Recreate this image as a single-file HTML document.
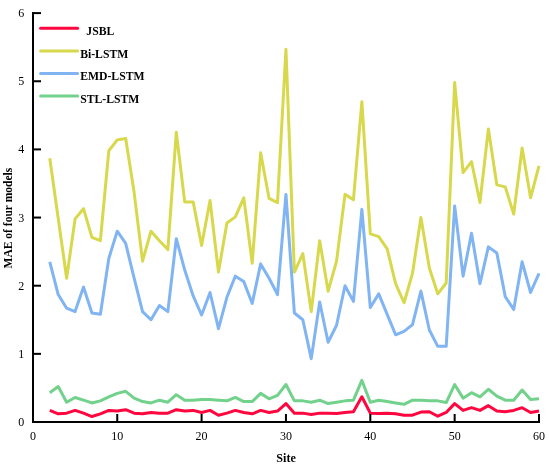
<!DOCTYPE html>
<html><head><meta charset="utf-8"><style>
html,body{margin:0;padding:0;background:#fff;}
body{width:550px;height:466px;overflow:hidden;}
svg{display:block;}
.tl{font-family:"Liberation Serif",serif;font-size:12px;fill:#000;}
.al{font-family:"Liberation Serif",serif;font-size:11.7px;font-weight:bold;fill:#000;}
.lg{font-family:"Liberation Serif",serif;font-size:11.7px;font-weight:bold;fill:#000;}
</style></head><body>
<svg width="550" height="466" viewBox="0 0 550 466">
<rect width="550" height="466" fill="#fff"/>
<polyline points="49.77,410.41 58.20,413.82 66.64,413.14 75.08,410.41 83.51,413.14 91.94,416.55 100.38,413.82 108.81,410.41 117.25,411.10 125.69,409.73 134.12,413.14 142.56,413.82 150.99,412.46 159.43,413.14 167.86,413.14 176.30,409.73 184.73,411.10 193.17,410.41 201.60,412.46 210.04,410.41 218.47,415.19 226.91,413.14 235.34,410.41 243.78,412.46 252.21,413.82 260.64,410.41 269.08,412.46 277.51,411.10 285.95,403.60 294.38,413.14 302.82,413.14 311.25,414.50 319.69,413.14 328.12,413.14 336.56,413.48 345.00,412.46 353.43,411.78 361.87,396.78 370.30,413.14 378.74,413.48 387.17,413.14 395.61,413.82 404.04,415.19 412.48,415.19 420.91,412.12 429.35,411.78 437.78,416.21 446.21,412.46 454.65,403.60 463.08,410.41 471.52,407.69 479.95,410.41 488.39,405.64 496.82,411.10 505.26,411.78 513.70,410.41 522.13,407.69 530.57,412.46 539.00,411.10" fill="none" stroke="#ff063f" stroke-width="3.0" stroke-linejoin="round" stroke-linecap="butt"/>
<polyline points="49.77,158.26 58.20,218.23 66.64,278.20 75.08,218.91 83.51,208.69 91.94,237.31 100.38,240.72 108.81,150.76 117.25,139.86 125.69,138.50 134.12,192.33 142.56,261.17 150.99,231.18 159.43,240.72 167.86,249.58 176.30,132.36 184.73,201.88 193.17,201.88 201.60,245.49 210.04,200.51 218.47,272.07 226.91,223.00 235.34,216.87 243.78,197.79 252.21,263.21 260.64,152.81 269.08,198.47 277.51,202.56 285.95,49.22 294.38,272.07 302.82,253.67 311.25,311.60 319.69,240.72 328.12,291.15 336.56,261.17 345.00,194.38 353.43,199.83 361.87,101.69 370.30,233.91 378.74,236.63 387.17,248.90 395.61,283.66 404.04,302.74 412.48,273.43 420.91,217.55 429.35,267.98 437.78,293.88 446.21,282.97 454.65,82.61 463.08,172.57 471.52,161.67 479.95,202.56 488.39,128.95 496.82,184.84 505.26,186.88 513.70,214.14 522.13,148.04 530.57,197.79 539.00,165.76" fill="none" stroke="#d8d84c" stroke-width="3.0" stroke-linejoin="round" stroke-linecap="butt"/>
<polyline points="49.77,261.85 58.20,294.56 66.64,308.19 75.08,311.60 83.51,287.06 91.94,312.96 100.38,314.32 108.81,258.44 117.25,231.18 125.69,243.45 134.12,278.20 142.56,311.60 150.99,319.77 159.43,305.46 167.86,311.60 176.30,238.68 184.73,270.03 193.17,295.92 201.60,315.00 210.04,292.51 218.47,328.63 226.91,297.29 235.34,276.16 243.78,281.61 252.21,303.42 260.64,263.89 269.08,278.20 277.51,294.56 285.95,194.38 294.38,312.96 302.82,319.77 311.25,358.62 319.69,302.06 328.12,342.26 336.56,325.23 345.00,285.70 353.43,301.37 361.87,209.37 370.30,307.51 378.74,293.88 387.17,314.32 395.61,334.77 404.04,331.36 412.48,324.55 420.91,291.15 429.35,330.00 437.78,346.35 446.21,346.35 454.65,205.96 463.08,276.16 471.52,233.22 479.95,283.66 488.39,246.85 496.82,252.99 505.26,296.60 513.70,309.55 522.13,261.85 530.57,292.51 539.00,273.43" fill="none" stroke="#80b4f2" stroke-width="3.0" stroke-linejoin="round" stroke-linecap="butt"/>
<polyline points="49.77,392.70 58.20,386.56 66.64,402.24 75.08,397.47 83.51,400.19 91.94,402.92 100.38,400.87 108.81,396.78 117.25,393.38 125.69,391.33 134.12,398.15 142.56,401.56 150.99,402.92 159.43,400.19 167.86,402.24 176.30,394.74 184.73,400.19 193.17,400.19 201.60,399.51 210.04,399.51 218.47,400.19 226.91,400.87 235.34,397.47 243.78,401.56 252.21,401.56 260.64,393.38 269.08,398.83 277.51,395.42 285.95,384.52 294.38,400.87 302.82,400.87 311.25,402.24 319.69,400.19 328.12,403.60 336.56,402.24 345.00,400.87 353.43,400.19 361.87,380.43 370.30,402.24 378.74,400.19 387.17,401.56 395.61,402.92 404.04,404.28 412.48,400.19 420.91,400.19 429.35,400.87 437.78,400.87 446.21,402.58 454.65,384.52 463.08,398.15 471.52,392.70 479.95,396.78 488.39,389.29 496.82,396.10 505.26,400.19 513.70,400.19 522.13,389.97 530.57,399.51 539.00,398.83" fill="none" stroke="#72d28c" stroke-width="3.0" stroke-linejoin="round" stroke-linecap="butt"/>
<rect x="32" y="12" width="2" height="411" fill="#000"/>
<rect x="32" y="421" width="508" height="2" fill="#000"/>
<rect x="34" y="352.85" width="7" height="2" fill="#000"/>
<rect x="34" y="284.70" width="7" height="2" fill="#000"/>
<rect x="34" y="216.55" width="7" height="2" fill="#000"/>
<rect x="34" y="148.40" width="7" height="2" fill="#000"/>
<rect x="34" y="80.25" width="7" height="2" fill="#000"/>
<rect x="34" y="12.10" width="7" height="2" fill="#000"/>
<rect x="116.25" y="414" width="2" height="7" fill="#000"/>
<rect x="200.60" y="414" width="2" height="7" fill="#000"/>
<rect x="284.95" y="414" width="2" height="7" fill="#000"/>
<rect x="369.30" y="414" width="2" height="7" fill="#000"/>
<rect x="453.65" y="414" width="2" height="7" fill="#000"/>
<rect x="538.00" y="414" width="2" height="7" fill="#000"/>
<text x="24.3" y="426.00" text-anchor="end" class="tl">0</text>
<text x="24.3" y="357.85" text-anchor="end" class="tl">1</text>
<text x="24.3" y="289.70" text-anchor="end" class="tl">2</text>
<text x="24.3" y="221.55" text-anchor="end" class="tl">3</text>
<text x="24.3" y="153.40" text-anchor="end" class="tl">4</text>
<text x="24.3" y="85.25" text-anchor="end" class="tl">5</text>
<text x="24.3" y="17.10" text-anchor="end" class="tl">6</text>
<text x="32.90" y="440" text-anchor="middle" class="tl">0</text>
<text x="117.25" y="440" text-anchor="middle" class="tl">10</text>
<text x="201.60" y="440" text-anchor="middle" class="tl">20</text>
<text x="285.95" y="440" text-anchor="middle" class="tl">30</text>
<text x="370.30" y="440" text-anchor="middle" class="tl">40</text>
<text x="454.65" y="440" text-anchor="middle" class="tl">50</text>
<text x="539.00" y="440" text-anchor="middle" class="tl">60</text>
<text x="286.1" y="461.9" text-anchor="middle" class="al" style="font-size:12.1px">Site</text>
<text transform="translate(11.7,218.1) rotate(-90)" x="0" y="0" text-anchor="middle" class="al" style="font-size:11.55px">MAE of four models</text>
<line x1="40.6" y1="28.2" x2="77.6" y2="28.2" stroke="#ff063f" stroke-width="3.0" stroke-linecap="round"/>
<text x="86.3" y="34.6" class="lg">JSBL</text>
<line x1="40.6" y1="51.1" x2="77.6" y2="51.1" stroke="#d8d84c" stroke-width="3.0" stroke-linecap="round"/>
<text x="80.2" y="57.8" class="lg">Bi-LSTM</text>
<line x1="40.6" y1="73.6" x2="77.6" y2="73.6" stroke="#80b4f2" stroke-width="3.0" stroke-linecap="round"/>
<text x="80.2" y="80.2" class="lg">EMD-LSTM</text>
<line x1="40.6" y1="96.1" x2="77.6" y2="96.1" stroke="#72d28c" stroke-width="3.0" stroke-linecap="round"/>
<text x="80.2" y="102.8" class="lg">STL-LSTM</text>
</svg>
</body></html>
